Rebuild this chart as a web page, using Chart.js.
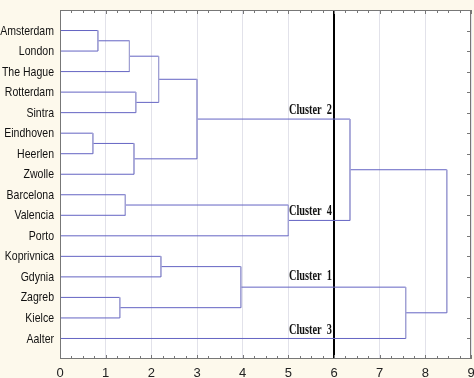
<!DOCTYPE html>
<html>
<head>
<meta charset="utf-8">
<script src="https://cdn.jsdelivr.net/npm/chart.js@4"></script>
<style>
  body { margin: 0; background: #fdf9ec; }
  #wrap { width: 474px; height: 378px; }
</style>
</head>
<body>
<div id="wrap"><canvas id="tree" width="474" height="378"></canvas></div>
<script>
// leaves, top to bottom
const cities = [
    "Amsterdam", "London", "The Hague", "Rotterdam", "Sintra",
    "Eindhoven", "Heerlen", "Zwolle", "Barcelona", "Valencia",
    "Porto", "Koprivnica", "Gdynia", "Zagreb", "Kielce", "Aalter"
];

// merges: node a, node b (leaf index or 16 + merge index), linkage distance
const mergeA = [0, 16, 3, 17, 5, 20, 19, 8, 23, 22, 11, 13, 26, 28, 25];
const mergeB = [1, 2, 4, 18, 6, 7, 21, 9, 10, 24, 12, 14, 27, 15, 29];
const mergeDist = [0.83, 1.52, 1.66, 2.16, 0.72, 1.62, 3.0, 1.43, 5.0, 6.35, 2.21, 1.31, 3.96, 7.57, 8.47];

const cutHeight = 6;
const clusterNames = ["Cluster  2", "Cluster  4", "Cluster  1", "Cluster  3"];
const clusterRows = [3.9, 8.8, 12.0, 14.6];

const xTicks = [0, 1, 2, 3, 4, 5, 6, 7, 8, 9];

const hColor = '#6464c3';
const vColor = '#a0a0d4';

// work out node positions from the merge list
const nodeX = cities.map(() => 0);
const nodeY = cities.map((c, i) => i);
const datasets = [];
mergeA.forEach((a, i) => {
    const b = mergeB[i];
    const h = mergeDist[i];
    datasets.push({
        data: [
            {x: nodeX[a], y: nodeY[a]},
            {x: h, y: nodeY[a]},
            {x: h, y: nodeY[b]},
            {x: nodeX[b], y: nodeY[b]}
        ],
        borderColor: hColor,
        borderWidth: 1,
        pointRadius: 0,
        segment: {
            borderColor: ctx => ctx.p0.parsed.x === ctx.p1.parsed.x ? vColor : hColor
        }
    });
    nodeX.push(h);
    nodeY.push((nodeY[a] + nodeY[b]) / 2);
});

datasets.push({
    data: [{x: cutHeight, y: -1}, {x: cutHeight, y: cities.length}],
    borderColor: '#000',
    borderWidth: 2,
    pointRadius: 0
});

// squeezed text, the original uses a narrow face
function narrowText(ctx, text, x, y, width) {
    const k = width / ctx.measureText(text).width;
    ctx.save();
    ctx.translate(x, y);
    ctx.scale(k, 1);
    ctx.fillText(text, 0, 0);
    ctx.restore();
}

const framePlugin = {
    id: 'frame',
    beforeDraw(chart) {
        const {ctx, chartArea: a} = chart;
        ctx.save();
        ctx.fillStyle = '#fff';
        ctx.fillRect(a.left, a.top, a.right - a.left, a.bottom - a.top);
        ctx.restore();
    },
    afterDatasetsDraw(chart) {
        const {ctx, chartArea: a, scales} = chart;
        ctx.save();
        ctx.strokeStyle = '#777';
        ctx.lineWidth = 1;
        ctx.strokeRect(Math.round(a.left) + 0.5, Math.round(a.top) + 0.5,
            Math.round(a.right - a.left) - 1, Math.round(a.bottom - a.top) - 1);
        ctx.beginPath();
        for (let v = 0; v <= 9; v += 0.25) {
            const px = Math.round(scales.x.getPixelForValue(v)) + 0.5;
            const len = v % 1 === 0 ? 4 : 3;
            ctx.moveTo(px, a.top);
            ctx.lineTo(px, a.top + len);
            ctx.moveTo(px, a.bottom);
            ctx.lineTo(px, a.bottom - len);
        }
        cities.forEach((c, i) => {
            const py = Math.round(scales.y.getPixelForValue(i)) + 0.5;
            ctx.moveTo(a.right, py);
            ctx.lineTo(a.right - 4, py);
        });
        ctx.stroke();

        // city names, right aligned against the axis
        ctx.fillStyle = '#111';
        ctx.font = '13px "Liberation Sans", Arial, sans-serif';
        ctx.textBaseline = 'middle';
        cities.forEach((c, i) => {
            const w = ctx.measureText(c).width * 0.81;
            narrowText(ctx, c, a.left - 6 - w, scales.y.getPixelForValue(i) + 0.5, w);
        });

        // cluster labels beside the cut line
        ctx.font = 'bold 14px "Liberation Serif", "DejaVu Serif", serif';
        const right = scales.x.getPixelForValue(cutHeight) - 2;
        clusterNames.forEach((name, i) => {
            narrowText(ctx, name, right - 43, scales.y.getPixelForValue(clusterRows[i]), 43);
        });
        ctx.restore();
    }
};

new Chart(document.getElementById('tree'), {
    type: 'line',
    data: { datasets: datasets },
    options: {
        responsive: false,
        animation: false,
        events: [],
        layout: { padding: { top: 10, right: 3, left: 0, bottom: 0 } },
        plugins: { legend: { display: false }, tooltip: { enabled: false } },
        scales: {
            x: {
                type: 'linear',
                min: 0,
                max: 9,
                afterBuildTicks: scale => { scale.ticks = xTicks.map(v => ({value: v})); },
                ticks: {
                    color: '#222',
                    padding: 7,
                    font: { family: '"Liberation Sans", Arial', size: 13 }
                },
                grid: { color: '#e2e2ea', drawTicks: false },
                border: { display: false },
                afterFit: scale => {
                    scale.height = 19;
                    scale.paddingLeft = 0;
                    scale.paddingRight = 0;
                }
            },
            y: {
                type: 'linear',
                reverse: true,
                min: -1,
                max: cities.length,
                ticks: { display: false },
                grid: { display: false, drawTicks: false },
                border: { display: false },
                afterFit: scale => { scale.width = 60; }
            }
        }
    },
    plugins: [framePlugin]
});
</script>
</body>
</html>
